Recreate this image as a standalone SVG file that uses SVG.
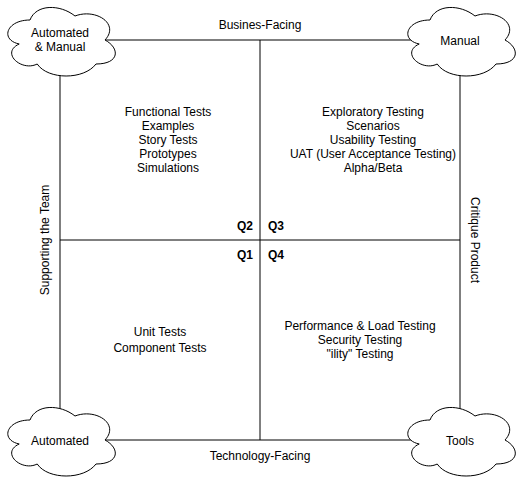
<svg xmlns="http://www.w3.org/2000/svg" width="521" height="481" viewBox="0 0 521 481">
<style>
text{font-family:"Liberation Sans",Arial,sans-serif;font-size:12px;fill:#000;text-anchor:middle}
.b{font-weight:bold}
.ln{stroke:#000;stroke-width:1;fill:none}
.cl{fill:#fff;stroke:#000;stroke-width:1}
</style>
<defs>
<path id="cloud" d="M30 20C6 20 0 40 19.2 44C0 52.8 21.6 72 37.2 64C48 80 84 80 96 64C120 64 120 48 105 40C120 24 96 8 75 16C60 4 36 4 30 20Z"/>
</defs>
<rect width="521" height="481" fill="#fff"/>
<g id="connectors">
<rect class="ln" x="60" y="40" width="400" height="400"/>
<line class="ln" x1="260" y1="40" x2="260" y2="440"/>
<line class="ln" x1="60" y1="240" x2="460" y2="240"/>
</g>
<g id="axis-labels">
<text x="260" y="29">Busines-Facing</text>
<text x="260" y="460">Technology-Facing</text>
<text transform="translate(49 240) rotate(-90)">Supporting the Team</text>
<text transform="translate(471 240) rotate(90)">Critique Product</text>
</g>
<g id="q2"><text x="168" y="116">Functional Tests</text><text x="168" y="130">Examples</text><text x="168" y="144">Story Tests</text><text x="168" y="158">Prototypes</text><text x="168" y="172">Simulations</text><text class="b" x="245" y="230">Q2</text></g>
<g id="q3"><text x="373" y="116">Exploratory Testing</text><text x="373" y="130">Scenarios</text><text x="373" y="144">Usability Testing</text><text x="373" y="158">UAT (User Acceptance Testing)</text><text x="373" y="172">Alpha/Beta</text><text class="b" x="276" y="230">Q3</text></g>
<g id="q1"><text x="160" y="336">Unit Tests</text><text x="160" y="352">Component Tests</text><text class="b" x="245" y="259">Q1</text></g>
<g id="q4"><text x="360" y="330">Performance &amp; Load Testing</text><text x="360" y="344">Security Testing</text><text x="360" y="358">"ility" Testing</text><text class="b" x="276" y="259">Q4</text></g>
<g id="cloud-am"><use href="#cloud" class="cl" x="0" y="0"/><text x="60" y="37">Automated</text><text x="60" y="51">&amp; Manual</text></g>
<g id="cloud-manual"><use href="#cloud" class="cl" x="400" y="0"/><text x="460" y="45">Manual</text></g>
<g id="cloud-automated"><use href="#cloud" class="cl" x="0" y="400"/><text x="60" y="445">Automated</text></g>
<g id="cloud-tools"><use href="#cloud" class="cl" x="400" y="400"/><text x="460" y="445">Tools</text></g>
</svg>
